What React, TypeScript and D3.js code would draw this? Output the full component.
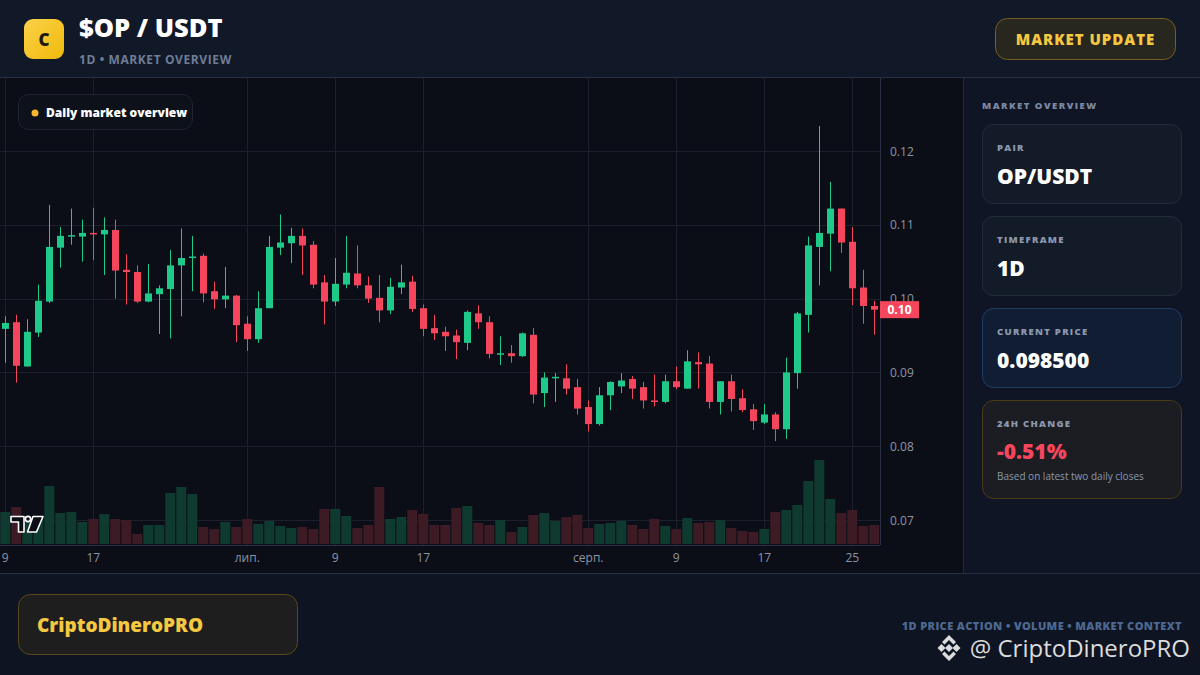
import * as d3 from 'd3';

// daily candles, starting 9 June
const START = new Date(2025, 5, 9);
const open = [
  0.0959, 0.0968, 0.0908, 0.0954, 0.0996, 0.1069, 0.1084, 0.1084, 0.1089, 0.1087,
  0.1093, 0.1039, 0.1036, 0.0996, 0.1006, 0.1013, 0.1045, 0.1055, 0.1058, 0.1010,
  0.0999, 0.1004, 0.0966, 0.0945, 0.0987, 0.1069, 0.1075, 0.1085, 0.1073, 0.1022,
  0.0996, 0.1019, 0.1034, 0.1018, 0.1001, 0.0984, 0.1015, 0.1023, 0.0987, 0.0960,
  0.0955, 0.0950, 0.0940, 0.0980, 0.0968, 0.0925, 0.0926, 0.0922, 0.0951, 0.0872,
  0.0893, 0.0892, 0.0880, 0.0853, 0.0830, 0.0869, 0.0881, 0.0891, 0.0880, 0.0862,
  0.0860, 0.0888, 0.0878, 0.0914, 0.0912, 0.0860, 0.0888, 0.0865, 0.0850, 0.0832,
  0.0843, 0.0823, 0.0899, 0.0978, 0.1070, 0.1088, 0.1122, 0.1077, 0.1015, 0.0990,
];
const high = [
  0.0976, 0.0978, 0.0972, 0.1019, 0.1127, 0.1097, 0.1122, 0.1107, 0.1123, 0.1110,
  0.1107, 0.1060, 0.1045, 0.1047, 0.1018, 0.1066, 0.1095, 0.1085, 0.1061, 0.1023,
  0.1043, 0.1005, 0.0976, 0.1010, 0.1085, 0.1114, 0.1096, 0.1095, 0.1078, 0.1032,
  0.1055, 0.1085, 0.1072, 0.1030, 0.1032, 0.1028, 0.1046, 0.1031, 0.0992, 0.0978,
  0.0962, 0.0958, 0.0984, 0.0991, 0.0976, 0.0949, 0.0937, 0.0954, 0.0960, 0.0900,
  0.0899, 0.0911, 0.0891, 0.0862, 0.0880, 0.0888, 0.0899, 0.0895, 0.0887, 0.0897,
  0.0897, 0.0908, 0.0930, 0.0927, 0.0922, 0.0888, 0.0897, 0.0877, 0.0857, 0.0857,
  0.0846, 0.0920, 0.0982, 0.1084, 0.1234, 0.1158, 0.1122, 0.1097, 0.1039, 0.0997,
];
const low = [
  0.0913, 0.0886, 0.0908, 0.0948, 0.0994, 0.1042, 0.1073, 0.1050, 0.1052, 0.1032,
  0.1000, 0.0992, 0.0994, 0.0995, 0.0952, 0.0946, 0.0976, 0.1010, 0.0995, 0.0986,
  0.0987, 0.0941, 0.0929, 0.0940, 0.0987, 0.1059, 0.1048, 0.1032, 0.1014, 0.0965,
  0.0990, 0.1014, 0.1014, 0.0994, 0.0968, 0.0979, 0.1006, 0.0982, 0.0949, 0.0944,
  0.0929, 0.0918, 0.0930, 0.0959, 0.0919, 0.0910, 0.0913, 0.0921, 0.0858, 0.0853,
  0.0860, 0.0870, 0.0843, 0.0820, 0.0828, 0.0849, 0.0872, 0.0864, 0.0851, 0.0854,
  0.0858, 0.0877, 0.0878, 0.0878, 0.0851, 0.0843, 0.0847, 0.0846, 0.0822, 0.0830,
  0.0807, 0.0810, 0.0878, 0.0954, 0.1018, 0.1037, 0.1062, 0.0991, 0.0966, 0.0951,
];
const close = [
  0.0967, 0.0909, 0.0955, 0.0997, 0.1070, 0.1085, 0.1086, 0.1089, 0.1087, 0.1093,
  0.1038, 0.1036, 0.0996, 0.1007, 0.1014, 0.1045, 0.1055, 0.1057, 0.1007, 0.0999,
  0.1004, 0.0964, 0.0945, 0.0987, 0.1070, 0.1076, 0.1085, 0.1072, 0.1019, 0.0996,
  0.1020, 0.1035, 0.1018, 0.1000, 0.0984, 0.1016, 0.1022, 0.0986, 0.0959, 0.0953,
  0.0949, 0.0941, 0.0982, 0.0968, 0.0925, 0.0926, 0.0922, 0.0953, 0.0870, 0.0893,
  0.0894, 0.0878, 0.0851, 0.0830, 0.0869, 0.0887, 0.0889, 0.0878, 0.0862, 0.0860,
  0.0888, 0.0880, 0.0915, 0.0911, 0.0860, 0.0888, 0.0864, 0.0849, 0.0834, 0.0843,
  0.0823, 0.0900, 0.0980, 0.1072, 0.1089, 0.1122, 0.1076, 0.1014, 0.0990, 0.0985,
];
// volume, millions OP
const volume = [
  32, 37, 27, 27, 58, 31, 32, 22, 25, 30,
  25, 24, 10, 19, 19, 51, 57, 50, 17, 15,
  22, 17, 25, 20, 23, 18, 16, 17, 15, 35,
  35, 28, 16, 19, 57, 25, 27, 34, 30, 19,
  19, 36, 38, 21, 19, 24, 12, 17, 29, 31,
  23, 27, 29, 16, 20, 21, 23, 19, 15, 25,
  18, 15, 26, 21, 22, 24, 16, 13, 12, 15,
  32, 34, 39, 63, 84, 45, 31, 34, 18, 19,
];

const priceTicks = [0.07, 0.08, 0.09, 0.10, 0.11, 0.12];
const timeTicks = [
  new Date(2025, 5, 9), new Date(2025, 5, 17), new Date(2025, 6, 1),
  new Date(2025, 6, 9), new Date(2025, 6, 17), new Date(2025, 7, 1),
  new Date(2025, 7, 9), new Date(2025, 7, 17), new Date(2025, 7, 25),
];
const timeLabels = ['9', '17', 'лип.', '9', '17', 'серп.', '9', '17', '25'];

const cards = [
  { label: 'PAIR', value: 'OP/USDT' },
  { label: 'TIMEFRAME', value: '1D' },
  { label: 'CURRENT PRICE', value: '0.098500' },
];

const UP = '#1fc98a';
const DOWN = '#f6465d';
const UI = '"Open Sans", "Noto Sans", sans-serif';

export default function App() {
  const W = 1200, H = 675;
  const plotRight = 880, plotTop = 78, plotBottom = 545;

  const dates = open.map((_, i) => d3.timeDay.offset(START, i));
  const x = d3.scaleTime()
    .domain([START, dates[dates.length - 1]])
    .range([5.3, 874.3]);
  const y = d3.scaleLinear().domain([0.07, 0.12]).range([520, 151]);
  const vy = d3.scaleLinear().domain([0, d3.max(volume) || 1]).range([544, 460]);
  const fmt = d3.format('.2f');

  const last = close[close.length - 1];
  const prev = close[close.length - 2];
  const change = (last - prev) / prev;

  return (
    <div style={{ position: 'fixed', left: 0, top: 0 }}>
      <svg width={W} height={H} style={{ display: 'block', fontFamily: UI }}>
        <defs>
          <linearGradient id="coin" x1="0" y1="0" x2="1" y2="1">
            <stop offset="0" stopColor="#fbd249" />
            <stop offset="1" stopColor="#f0b90b" />
          </linearGradient>
          <clipPath id="plot">
            <rect x={0} y={plotTop} width={plotRight} height={plotBottom - plotTop} />
          </clipPath>
        </defs>

        {/* backgrounds */}
        <rect width={W} height={H} fill="#0f1422" />
        <rect width={W} height={77} fill="#111827" />
        <rect x={0} y={78} width={963} height={495} fill="#0b0e16" />
        <rect x={963} y={78} width={237} height={495} fill="#0f1524" />
        <line x1={0} x2={W} y1={77.5} y2={77.5} stroke="#273145" />
        <line x1={0} x2={W} y1={573.5} y2={573.5} stroke="#273145" />
        <line x1={963.5} x2={963.5} y1={78} y2={573} stroke="#222b3c" />

        {/* header */}
        <rect x={24} y={19} width={40} height={40} rx={9} fill="url(#coin)" />
        <text x={44} y={46} textAnchor="middle" fontSize={17} fontWeight={800} fill="#1a1a1a">C</text>
        <text x={79} y={37} fontSize={25.5} fontWeight={800} fill="#ffffff">$OP / USDT</text>
        <text x={79} y={63.5} fontSize={12} fontWeight={700} fill="#6f7d96" letterSpacing={0.6}>1D • MARKET OVERVIEW</text>
        <rect x={995.5} y={18.5} width={180} height={41} rx={12} fill="#27261f" stroke="#76601f" />
        <text x={1085.5} y={45} textAnchor="middle" fontSize={15} fontWeight={800} fill="#f5c842" letterSpacing={1}>MARKET UPDATE</text>

        {/* grid */}
        <g stroke="#1b202c" strokeWidth={1}>
          {priceTicks.map((p) => (
            <line key={'h' + p} x1={0} x2={plotRight} y1={Math.round(y(p)) + 0.5} y2={Math.round(y(p)) + 0.5} />
          ))}
          {timeTicks.map((d, i) => (
            <line key={'v' + i} x1={Math.round(x(d)) + 0.5} x2={Math.round(x(d)) + 0.5} y1={plotTop} y2={plotBottom} />
          ))}
        </g>

        {/* volume + candles */}
        <g clipPath="url(#plot)">
          {volume.map((v, i) => (
            <rect
              key={'vol' + i}
              x={x(dates[i]) - 5}
              y={vy(v)}
              width={10}
              height={vy(0) - vy(v)}
              fill={close[i] >= open[i] ? '#0f3a30' : '#3c1b24'}
            />
          ))}
          {open.map((o, i) => {
            const c = close[i];
            const col = c >= o ? UP : DOWN;
            const cx = Math.round(x(dates[i]));
            const top = y(Math.max(o, c));
            const bh = Math.max(1.5, y(Math.min(o, c)) - top);
            return (
              <g key={'c' + i}>
                <line x1={cx + 0.5} x2={cx + 0.5} y1={y(high[i])} y2={y(low[i])} stroke={col} strokeWidth={1} />
                <rect x={cx - 3} y={top} width={7} height={bh} fill={col} />
              </g>
            );
          })}
        </g>

        {/* axes */}
        <line x1={plotRight + 0.5} x2={plotRight + 0.5} y1={plotTop} y2={plotBottom} stroke="#2a3142" />
        <line x1={0} x2={plotRight} y1={plotBottom + 0.5} y2={plotBottom + 0.5} stroke="#2a3142" />
        {priceTicks.map((p) => (
          <text key={'pl' + p} x={890} y={y(p) + 4.5} fontSize={12} fill="#8d95a3">{fmt(p)}</text>
        ))}
        {timeTicks.map((d, i) => (
          <text key={'tl' + i} x={x(d)} y={562} textAnchor="middle" fontSize={12} fill="#8d95a3">{timeLabels[i]}</text>
        ))}
        <rect x={880} y={y(last) - 8.5} width={39} height={17} fill={DOWN} />
        <text x={899.5} y={y(last) + 4.5} textAnchor="middle" fontSize={12} fontWeight={700} fill="#ffffff">{fmt(last)}</text>

        {/* TradingView mark */}
        <g fill="#0b0e16" stroke="#ffffff" strokeWidth={1.6} strokeLinejoin="round">
          <path d="M11,516.5 H24 V532 H18.5 V522 H11 Z" />
          <circle cx={28} cy={519} r={2.6} />
          <path d="M33,516.5 H43 L36.5,532 H27.5 Z" />
        </g>

        {/* legend badge */}
        <rect x={18.5} y={94.5} width={174} height={35} rx={10} fill="#0d1119" stroke="#1f2531" />
        <circle cx={35} cy={113} r={3.5} fill="#f5b82e" />
        <text x={46} y={117} fontSize={12} fontWeight={800} fill="#ffffff">Daily market overview</text>

        {/* side panel */}
        <text x={982} y={109} fontSize={9.5} fontWeight={800} fill="#7b89a1" letterSpacing={1.5}>MARKET OVERVIEW</text>
        {cards.map((c, i) => {
          const top = 124.5 + i * 92;
          const cur = c.label === 'CURRENT PRICE';
          return (
            <g key={c.label}>
              <rect x={982.5} y={top} width={199} height={79} rx={11}
                fill={cur ? '#111d33' : '#131a28'} stroke={cur ? '#1f3d66' : '#222c3d'} />
              <text x={997} y={top + 26.5} fontSize={9.5} fontWeight={800} fill="#8c98ad" letterSpacing={1.3}>{c.label}</text>
              <text x={997} y={top + 59} fontSize={21} fontWeight={800} fill="#ffffff">{c.value}</text>
            </g>
          );
        })}
        <rect x={982.5} y={400.5} width={199} height={98} rx={11} fill="#1b1d22" stroke="#4b3b14" />
        <text x={997} y={427} fontSize={9.5} fontWeight={800} fill="#8c98ad" letterSpacing={1.3}>24H CHANGE</text>
        <text x={997} y={459} fontSize={21} fontWeight={800} fill={DOWN}>{(change * 100).toFixed(2) + '%'}</text>
        <text x={997} y={480} fontSize={10} fill="#8c98ad">Based on latest two daily closes</text>

        {/* footer */}
        <rect x={18.5} y={594.5} width={279} height={60} rx={12} fill="#1e1e1f" stroke="#5a4818" />
        <text x={37} y={632} fontSize={19} fontWeight={800} fill="#f5c842">CriptoDineroPRO</text>
        <text x={1182} y={629.5} textAnchor="end" fontSize={11} fontWeight={800} fill="#4d6990" letterSpacing={0.4}>1D PRICE ACTION • VOLUME • MARKET CONTEXT</text>
        <g fill="#dcdcdc" transform="translate(949,648)">
          <path d="M0,-4 L4,0 L0,4 L-4,0 Z" />
          <path d="M-7.5,-4 L-11.5,0 L-7.5,4 L-3.5,0 Z" />
          <path d="M7.5,-4 L11.5,0 L7.5,4 L3.5,0 Z" />
          <path d="M0,-13 L7,-6 L4.5,-3.5 L0,-8 L-4.5,-3.5 L-7,-6 Z" />
          <path d="M0,13 L7,6 L4.5,3.5 L0,8 L-4.5,3.5 L-7,6 Z" />
        </g>
        <text x={1190} y={657} textAnchor="end" fontSize={24} fill="#dcdcdc">@ CriptoDineroPRO</text>
      </svg>
    </div>
  );
}
